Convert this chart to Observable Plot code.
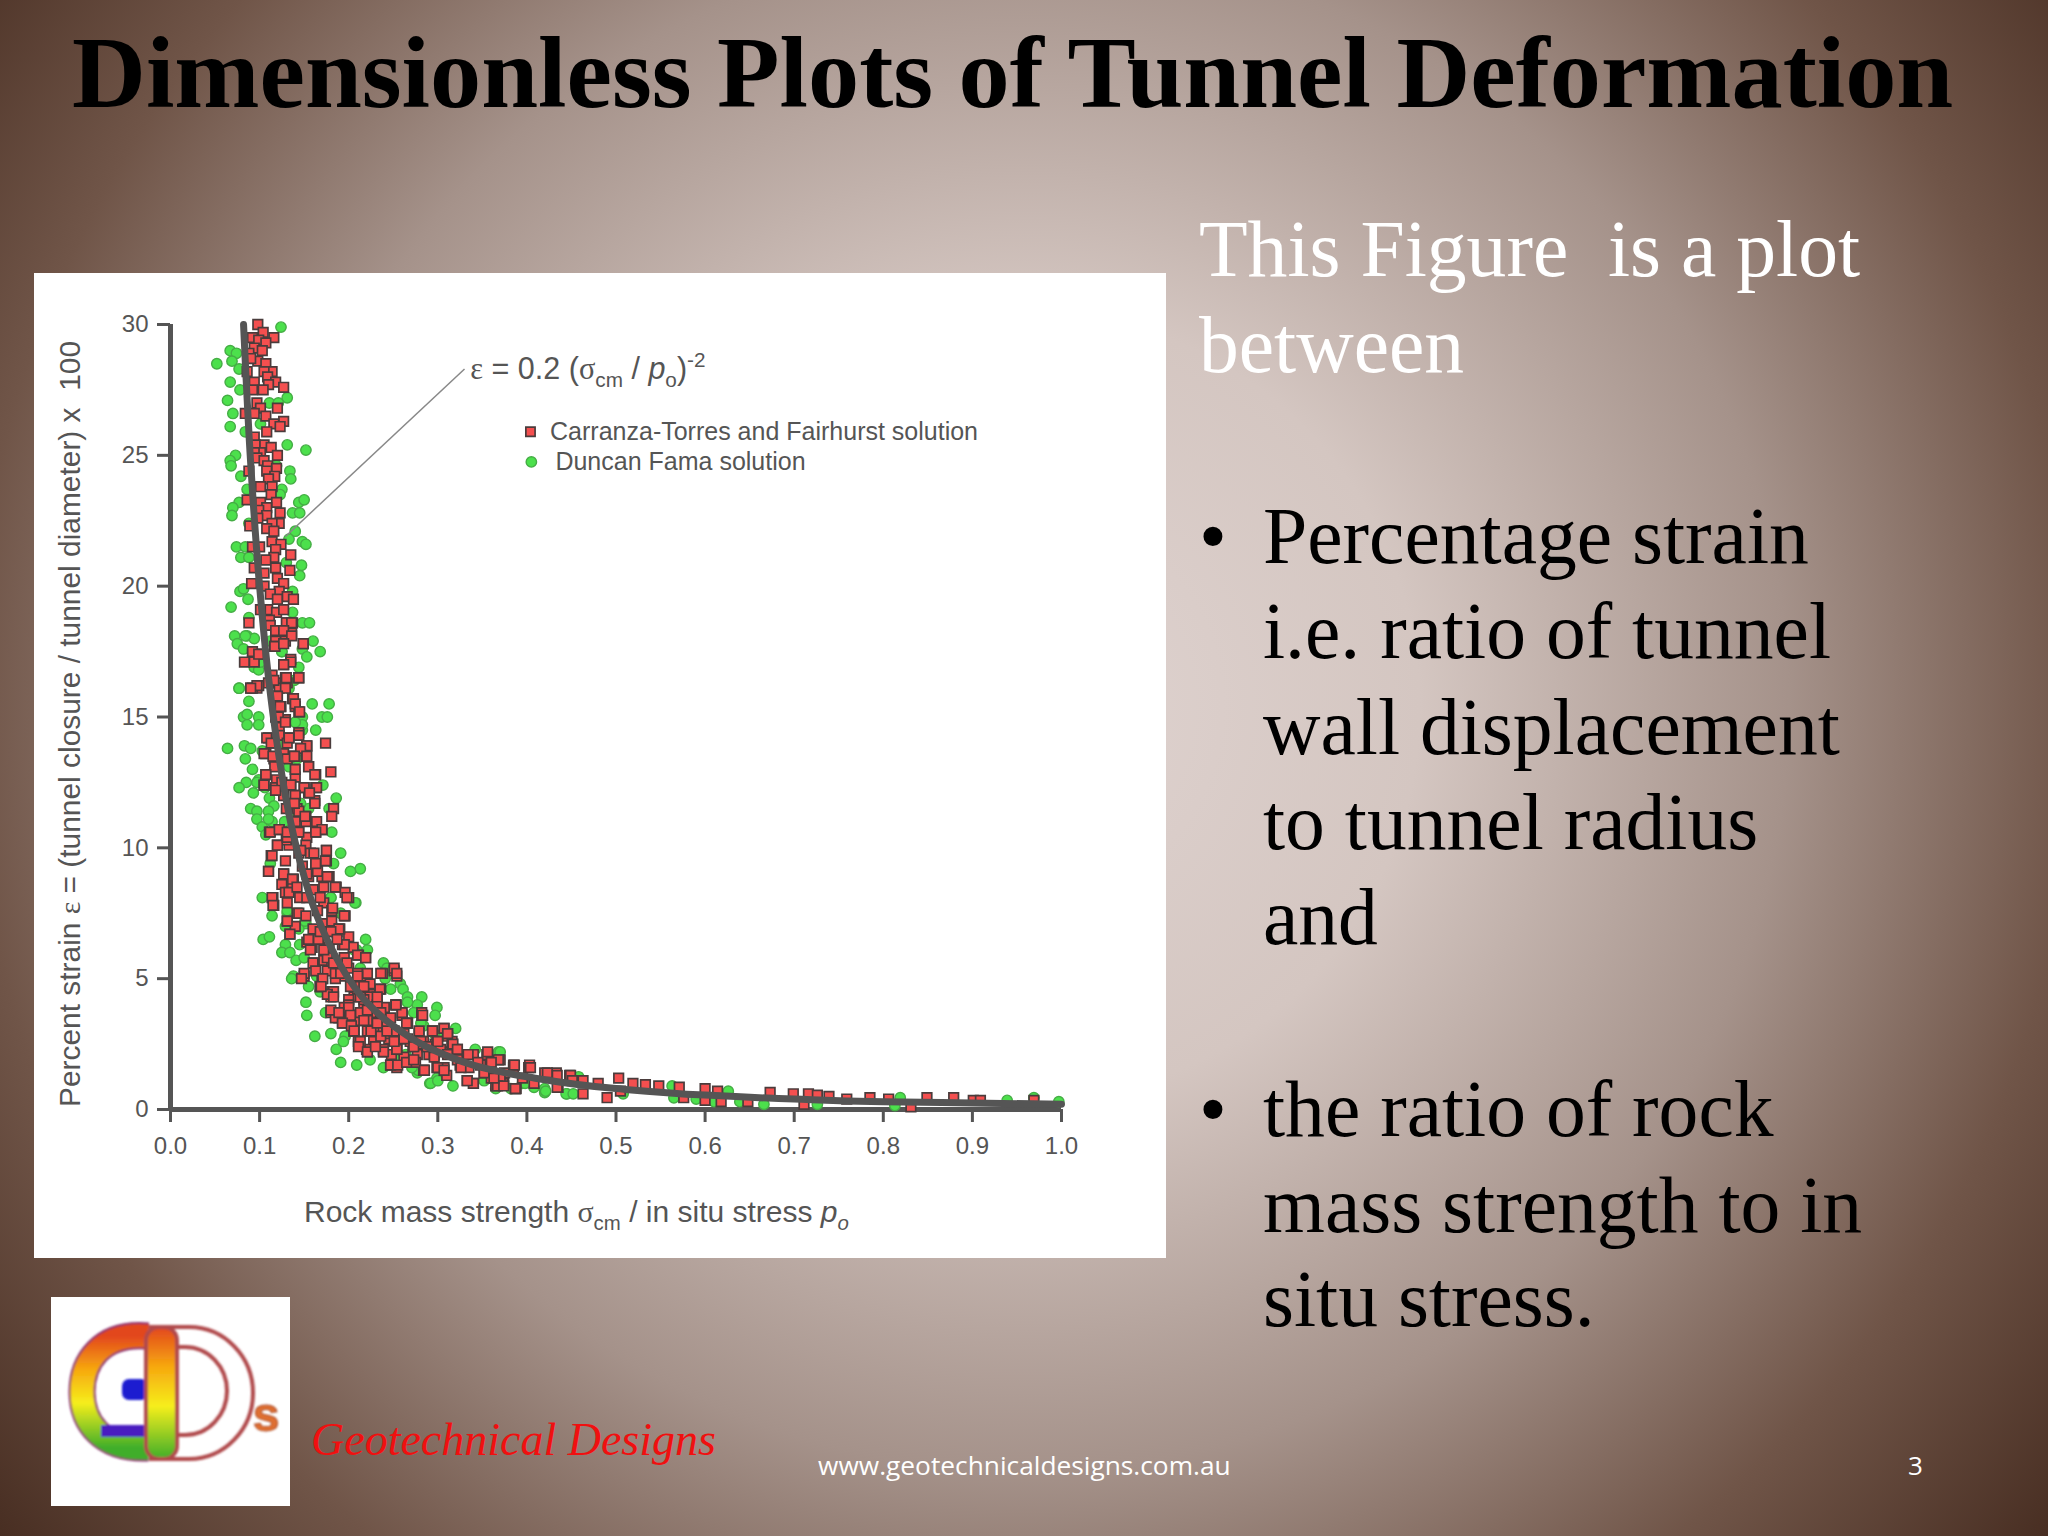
<!DOCTYPE html>
<html>
<head>
<meta charset="utf-8">
<script src="https://cdn.jsdelivr.net/npm/d3@7"></script>
<script src="https://cdn.jsdelivr.net/npm/@observablehq/plot@0.6"></script>
<style>
  html, body { margin: 0; padding: 0; }
  #slide {
    position: relative; width: 2048px; height: 1536px; overflow: hidden;
    background: radial-gradient(circle farthest-corner at 50% 46%, #e0d4d1 0%, #d4c6c1 30%, #a5928a 58%, #705548 80%, #482e22 100%);
    font-family: "Liberation Serif", serif;
  }
  #slide > div { position: absolute; white-space: pre; line-height: 1; }
  #slide > #panel, #slide > #logo { white-space: normal; }
  #panel svg, #logo svg { display: block; }
  #panel { left: 34px; top: 273px; width: 1132px; height: 985px; background: #fff; }
  #logo { left: 51px; top: 1297px; width: 239px; height: 209px; background: #fff; }
  .body { color: #000; font-size: 79.6px; }
  .white { color: #fff; }
</style>
</head>
<body>
<div id="slide">
  <div id="title" style="left:72px;top:22px;font-size:102.3px;font-weight:bold;color:#000">Dimensionless Plots of Tunnel Deformation</div>
  <div id="panel"></div>
  <div id="logo">
    <svg width="239" height="209">
      <defs>
        <linearGradient id="rainbow" x1="0" y1="0" x2="0" y2="1">
          <stop offset="0" stop-color="#e2461d"/><stop offset="0.3" stop-color="#f7a80f"/>
          <stop offset="0.6" stop-color="#f6ee1c"/><stop offset="1" stop-color="#3fae2a"/>
        </linearGradient>
        <filter id="soft"><feGaussianBlur stdDeviation="0.9"/></filter>
      </defs>
      <g filter="url(#soft)">
        <path d="M97 39 C50 35 31 65 31 95 C31 125 50 153 97 151" fill="none" stroke="#8a2f6a" stroke-width="27"/>
        <path d="M97 39 C50 35 31 65 31 95 C31 125 50 153 97 151" fill="none" stroke="url(#rainbow)" stroke-width="23"/>
        <rect x="50" y="128" width="46" height="12" fill="#4a1fc0"/>
        <rect x="71" y="82" width="26" height="21" rx="7" fill="#1a1ad0"/>
        <path d="M100 30 h38 a64 66 0 0 1 0 132 h-38 z" fill="none" stroke="#b0494c" stroke-width="4"/>
        <path d="M126 50 h8 a42 44 0 0 1 0 88 h-8 z" fill="none" stroke="#b0494c" stroke-width="4"/>
        <rect x="95" y="30" width="31" height="132" rx="13" fill="url(#rainbow)" stroke="#b0494c" stroke-width="4"/>
        <text x="215" y="134" text-anchor="middle" font-family="Liberation Sans" font-weight="bold" font-size="48" fill="#e07030" stroke="#a84020" stroke-width="1">s</text>
      </g>
    </svg>
  </div>
  <div class="white body" style="left:1199px;top:210px">This Figure  is a plot</div>
  <div class="white body" style="left:1199px;top:306px">between</div>
  <div class="body" style="left:1199px;top:497px">•</div>
  <div class="body" style="left:1263px;top:497px">Percentage strain</div>
  <div class="body" style="left:1263px;top:592px">i.e. ratio of tunnel</div>
  <div class="body" style="left:1263px;top:688px">wall displacement</div>
  <div class="body" style="left:1263px;top:783px">to tunnel radius</div>
  <div class="body" style="left:1263px;top:878px">and</div>
  <div class="body" style="left:1199px;top:1070px">•</div>
  <div class="body" style="left:1263px;top:1070px">the ratio of rock</div>
  <div class="body" style="left:1263px;top:1166px">mass strength to in</div>
  <div class="body" style="left:1263px;top:1260px">situ stress.</div>
  <div style="left:311px;top:1417px;font-size:46px;font-style:italic;color:#f01010">Geotechnical Designs</div>
  <div style="left:818px;top:1452px;font-size:26.3px;font-family:'Open Sans';color:#fff">www.geotechnicaldesigns.com.au</div>
  <div style="left:1908px;top:1452px;font-size:26px;font-family:'Open Sans';color:#fff">3</div>
</div>
<script>
const xTicks = [0, 0.1, 0.2, 0.3, 0.4, 0.5, 0.6, 0.7, 0.8, 0.9, 1];
const yTicks = [0, 5, 10, 15, 20, 25, 30];

// eps = 0.2 (s/p)^-2
const curveX = [0.082, 0.09, 0.1, 0.11, 0.12, 0.13, 0.14, 0.15, 0.16, 0.18, 0.2, 0.22, 0.25, 0.3, 0.35, 0.4, 0.5, 0.6, 0.7, 0.8, 0.9, 1];
const curveY = [30, 24.7, 20, 16.5, 13.9, 11.8, 10.2, 8.9, 7.8, 6.2, 5, 4.1, 3.2, 2.2, 1.6, 1.25, 0.8, 0.55, 0.4, 0.3, 0.25, 0.2];

const redPoints = [
  [.098,30],[.104,29.7],[.092,29.5],[.099,29.4],[.116,29.5],[.107,29.3],[.094,29.1],[.088,28.9],[.103,29],[.098,28.6],
  [.107,28.5],[.09,28.7],[.114,28.2],[.105,28.2],[.094,27.8],[.109,28],[.118,27.8],[.11,27.7],[.127,27.6],[.092,27.5],
  [.104,27.5],[.086,28.2],[.097,27],[.12,26.8],[.101,26.8],[.084,26.6],[.094,26.6],[.107,26.5],[.127,26.3],[.116,26.2],
  [.123,26.1],[.108,25.9],[.094,25.7],[.105,25.4],[.095,25.4],[.113,25.3],[.101,25.1],[.094,25.1],[.12,25],[.097,24.9],
  [.105,24.8],[.109,24.6],[.119,24.5],[.088,24.4],[.108,24.4],[.117,24.2],[.11,24.1],[.101,23.8],[.114,23.8],[.113,23.5],
  [.086,23.3],[.101,23.2],[.119,23.2],[.108,23],[.099,22.9],[.123,22.8],[.108,22.7],[.098,22.6],[.122,22.4],[.114,22.4],
  [.089,22.3],[.108,22.2],[.116,22.1],[.114,21.7],[.124,21.6],[.092,21.5],[.1,21.5],[.118,21.4],[.135,21.2],[.116,21.1],
  [.107,21],[.094,20.7],[.118,20.7],[.134,20.6],[.105,20.5],[.12,20.3],[.127,20.1],[.091,20.1],[.105,20],[.122,19.8],
  [.112,19.7],[.131,19.6],[.138,19.5],[.12,19.5],[.109,19.1],[.101,19.1],[.119,19],[.127,19.1],[.088,18.6],[.111,18.7],
  [.131,18.6],[.137,18.6],[.118,18.3],[.127,18.2],[.136,18.2],[.118,17.9],[.129,17.9],[.149,17.8],[.117,17.7],[.092,17.4],
  [.099,17.4],[.135,17.2],[.083,17.1],[.094,17.1],[.127,17],[.114,16.6],[.144,16.5],[.129,16.5],[.131,16.3],[.097,16.1],
  [.118,16.3],[.09,16.1],
  [.092,16.1],[.099,16.2],[.11,16.3],[.122,16.1],[.12,15.8],[.137,15.7],[.14,15.4],[.124,15.4],[.144,15.2],[.118,15],
  [.129,14.9],[.122,14.6],[.144,14.4],[.11,14.2],[.133,14.2],[.122,14.3],[.174,14],[.114,14],[.131,14],[.153,13.9],
  [.146,13.8],[.107,13.6],[.127,13.6],[.138,13.5],[.152,13.5],[.116,13.4],[.131,13.4],[.18,12.9],[.118,13.1],[.155,13.1],
  [.107,12.8],[.119,12.6],[.14,12.7],[.163,12.8],[.118,12.3],[.105,12.4],[.15,12.3],[.163,12.3],[.135,12.4],[.155,12.1],
  [.14,12],[.127,12],[.162,11.8],[.183,11.5],[.181,11.2],[.142,11.5],[.152,11.2],[.152,11],[.163,10.9],[.17,10.7],
  [.111,10.6],[.122,10.7],[.131,10.6],[.144,10.6],[.163,10.6],[.153,10.4],[.12,10.1],[.133,10.1],[.152,10.1],[.175,9.9],
  [.113,9.7],[.144,9.8],[.157,9.8],[.129,9.5],[.175,9.5],[.163,9.4],[.11,9.1],[.127,9],[.138,8.8],[.17,8.9],
  [.178,8.9],[.155,8.9],[.125,8.6],[.137,8.6],[.172,8.5],[.186,8.5],[.196,8.3],[.129,8.3],[.153,8.1],[.2,8.1],
  [.115,8.1],[.116,7.8],[.131,7.9],[.172,7.9],[.181,7.6],[.142,7.5],[.196,7.4],[.131,7.2],[.172,7.1],[.181,7.2],
  [.134,6.7],[.187,6.8],[.2,6.6],[.153,6.4],[.17,6.5],[.193,6.3],[.159,6.2],[.178,6.2],[.211,5.9],[.219,5.8],
  [.172,5.7],[.195,5.8],[.161,5.6],[.181,5.5],[.251,5.3],[.238,5.2],[.254,5.1],[.15,5.1],[.17,5],[.219,5.1],
  [.195,5.1],[.168,4.7],[.236,4.6],[.181,4.5],[.206,4.3],[.224,4.4],[.253,4],[.232,4.2],[.18,3.7],[.202,3.6],
  [.217,4],[.189,3.5],[.282,3.6],[.26,3.6],[.266,3.3],[.241,3.3],[.307,3.1],[.294,3],[.279,2.9],[.232,3],
  [.206,3],[.221,3],[.316,2.5],[.211,2.6],[.266,2.7],[.284,2.6],[.311,2.8],[.297,2.5],[.239,2.2],[.211,2.5],
  [.254,2.3],[.221,2.2],[.355,2.1],[.277,2.1],[.318,2.3],[.34,2.1],[.37,1.9],[.247,1.7],[.284,1.5],[.307,1.6],
  [.254,1.6],[.333,1.1],[.34,1],[.365,.9],[.387,.8],[.374,1],[.385,1.6],[.402,1.6],[.348,1.7],[.299,1.6],[.325,1.7],
  [.21,4.6],[.2,4.2],[.195,3.9],[.212,3.4],[.225,3.7],[.24,3.9],[.228,2.6],[.245,2.7],[.26,2.9],[.272,2.4],
  [.29,2.1],[.305,2.2],[.322,1.9],[.335,1.6],[.352,1.4],[.36,1.2],[.375,1.4],[.395,1.2],[.31,1.3],[.275,1.8],
  [.262,2],[.248,2.1],[.185,5],[.2,5.4],[.21,5.2],[.165,7.6],[.16,8.4],[.145,8.1],[.148,9.3],[.165,9.1],
  [.14,7],[.16,6.9],[.19,6.9],[.176,6.8],[.205,6.2],[.13,10.3],[.14,11],[.13,11.5],[.14,13],[.125,12.5],
  [.385,1.7],[.403,1.7],[.42,1.4],[.433,1.4],[.448,1.3],[.463,1.1],[.48,1],[.503,1.2],[.519,1],[.533,.95],
  [.548,.9],[.571,.85],[.6,.8],[.614,.7],[.673,.65],[.699,.6],[.716,.6],[.726,.55],[.739,.5],[.759,.4],
  [.785,.45],[.806,.4],[.849,.45],[.879,.45],[.901,.35],[.909,.35],[.969,.35],[.373,1],[.388,.8],[.435,.85],
  [.463,.6],[.49,.45],[.505,.7],[.576,.45],[.6,.35],[.618,.3],[.648,.3],[.711,.2],[.831,.1],
  // second pass over the dense part of the band
  [.12,10.1],[.114,9.7],[.11,9.1],[.127,9],[.137,8.8],[.133,8.3],[.114,8.1],[.115,7.8],[.131,7.2],[.134,6.7],
  [.144,7.5],[.152,7.4],[.155,6.5],[.166,6.5],[.157,6.1],[.176,5.8],[.16,5.6],[.163,5.3],[.176,5.3],[.15,5.2],
  [.147,5],[.168,4.7],[.171,5],[.185,5.2],[.175,9.9],[.174,9.5],[.163,9.4],[.176,8.9],[.185,8.5],[.198,8.1],
  [.195,7.4],[.168,8.1],[.182,7.7],[.189,6.9],[.195,6.3],[.21,5.9],[.219,5.8],[.198,5.6],[.221,5.2],[.21,5.1],
  [.236,5.2],[.251,5.4],[.254,5.2],[.235,4.6],[.224,4.3],[.2,4],[.187,3.7],[.201,3.6],[.185,3.5],[.193,3.3],
  [.206,3],[.211,2.6],[.22,2.3],[.239,2.3],[.253,4],[.26,3.6],[.266,3.3],[.282,3.7],[.279,3],[.294,3],
  [.299,2.6],[.307,3.1],[.311,2.9],[.316,2.6],[.254,2.3],[.322,2.3],[.277,2.5],[.228,3.1],[.243,2.9],[.217,4.2],
  [.18,4.3],[.183,4.5],[.176,4.4],[.213,4.7],[.224,4.8],[.232,4],[.213,3.7],[.221,3.4],[.236,3.5],[.243,3.3],
  [.251,3],[.262,2.9],[.269,2.6],[.281,2.6],[.288,2.4],[.296,2.1],[.303,2.3],[.311,2.1],[.18,6.8],[.187,6.5],
  [.168,6.8],[.172,6.1],[.183,5.6],[.191,5.2],[.202,4.7],[.142,8.5],[.153,8.1],[.146,9.9],[.131,10.4],[.161,9.8],
  [.153,9],[.169,4.7],[.2,3.9],[.18,3.8],[.189,3.7],[.202,3.6],[.193,3.3],[.203,3.2],[.206,3],[.213,2.6],
  [.211,2.4],[.221,2.2],[.239,2.2],[.254,2.3],[.23,2.4],[.247,1.7],[.255,1.7],[.265,1.8],[.273,1.9],[.285,1.5],
  [.3,1.6],[.307,1.5],[.317,2.5],[.3,2.6],[.311,2.9],[.265,3.3],[.26,3.7],[.253,4],[.283,3.6],[.356,2.2],
  [.368,1.9],[.322,2.3],[.334,2.1],[.345,1.8],[.36,1.8],[.37,1.2],[.367,.9],[.374,.9],[.387,.8],[.34,1],
  [.333,1.1],[.386,1.7],[.404,1.6],[.423,1.4],[.434,1.3],[.449,1.3],[.451,1.1],[.408,1],[.434,.85],[.352,1.4],
  [.363,1.2],[.326,1.6],[.296,2],[.288,2.4],[.273,2.4],[.236,2.8],[.251,2.6],[.243,3],[.262,2.7],[.225,3],
  [.217,3.4],[.232,3.3],[.247,3.5],[.236,3.7],[.221,3.8],[.213,4.3],[.232,4.3],[.217,4.7],[.183,4.3],
  [.112,18.5],[.13,18.6],[.136,18.6],[.118,18.3],[.127,18.3],[.136,18.1],[.149,17.8],[.117,17.7],[.092,17.5],[.099,17.4],
  [.127,17.8],[.135,17.1],[.127,17],[.144,16.5],[.13,16.5],[.116,16.4],[.097,16.2],[.09,16.1],[.129,16.1],[.12,15.8],
  [.138,15.7],[.14,15.5],[.123,15.4],[.145,15.2],[.121,15],[.129,14.8],[.144,14.3],[.133,14.2],[.108,14.2],[.113,14],
  [.153,13.9],[.146,13.8],[.105,13.6],[.115,13.5],[.139,13.5],[.153,13.5],[.155,13.1],[.162,12.8],[.117,13.1],[.107,12.8],
  [.105,12.4],[.118,12.2],[.135,12.4],[.15,12.3],[.164,12.3],[.156,12.1],[.14,12],[.162,11.7],[.144,11.4],[.151,11.2],
  [.139,11.7],[.164,11],[.17,10.7],[.112,10.6],[.122,10.7],[.131,10.6],[.144,10.6],[.163,10.6]
];

const greenPoints = [
  [.124,29.9],[.067,29],[.074,28.9],[.052,28.5],[.069,28.6],[.077,28.3],[.067,27.8],[.078,27.5],[.131,27.2],[.064,27.1],
  [.111,27],[.121,27],[.07,26.6],[.067,26.1],[.084,25.9],[.101,26.2],[.131,25.4],[.152,25.2],[.073,25],[.067,24.8],
  [.068,24.6],[.119,24.6],[.134,24.4],[.135,24.1],[.079,24.2],[.086,23.7],[.125,23.7],[.123,23.5],[.077,23.2],[.144,23.2],
  [.15,23.3],[.07,23],[.069,22.7],[.137,22.8],[.145,22.8],[.088,22.4],[.14,22.1],[.133,21.8],[.148,21.7],[.152,21.6],
  [.074,21.5],[.084,21.5],[.079,21.1],[.088,21.1],[.147,20.8],[.13,20.9],[.145,20.4],[.078,19.8],[.082,19.9],[.137,19.8],
  [.087,19.5],[.068,19.2],[.137,19],[.088,18.8],[.148,18.6],[.156,18.6],[.072,18.1],[.086,18.1],[.075,17.8],[.16,17.9],
  [.148,17.6],[.168,17.5],[.153,17.3],[.125,17.5],[.094,16.9],[.144,16.9],[.077,16.1],[.133,16.1],
  [.077,16.1],[.088,15.6],[.159,15.5],[.178,15.5],[.082,15],[.086,15.1],[.099,15],[.17,15],[.176,15],[.148,15],
  [.086,14.7],[.099,14.7],[.163,14.5],[.148,14.5],[.064,13.8],[.083,13.9],[.09,13.8],[.084,13.4],[.103,13.7],[.092,13],
  [.085,12.5],[.077,12.3],[.099,12.6],[.171,12.4],[.093,12.1],[.186,11.9],[.111,11.9],[.116,11.6],[.178,11.5],[.09,11.5],
  [.097,11.4],[.11,11.4],[.155,11.5],[.097,11.1],[.114,11],[.128,11],[.103,10.8],[.107,10.5],[.181,10.6],[.191,9.8],
  [.183,9.4],[.213,9.2],[.202,9.1],[.112,9.4],[.103,8.1],[.18,8.1],[.208,7.9],[.114,7.4],[.131,7.5],[.131,7],
  [.152,7.1],[.144,6.9],[.104,6.5],[.111,6.6],[.219,6.5],[.129,6.3],[.125,6],[.134,6],[.145,6.3],[.141,5.7],
  [.15,5.8],[.209,6.1],[.239,5.6],[.243,5.4],[.138,5.1],[.136,5],[.155,4.7],[.241,5],[.258,4.8],[.261,4.6],
  [.247,4.6],[.152,4.1],[.153,3.6],[.266,4.3],[.282,4.3],[.277,4],[.266,4.1],[.299,3.9],[.297,3.6],[.273,3.7],
  [.174,3.7],[.32,3.1],[.162,2.8],[.18,2.9],[.196,2.8],[.194,2.6],[.186,2.3],[.191,1.8],[.209,1.7],[.224,1.9],
  [.239,1.6],[.342,2.3],[.368,2.2],[.277,1.4],[.291,1],[.299,1.2],[.317,.9],[.382,.8],[.365,.8],[.303,2.8],[.284,3.2],
  [.37,2.2],[.395,1],[.408,.85],[.42,.65],[.445,.6],[.458,1.25],[.508,.6],[.563,.9],[.565,.45],[.59,.4],
  [.61,.3],[.626,.7],[.639,.3],[.666,.2],[.726,.2],[.819,.45],[.939,.35],[.997,.3],[.969,.45],[.813,.15],[.42,.8],
  [.151,7.2],[.129,7],[.191,7.5],[.18,8.1],[.131,7.6],[.206,6.1],[.221,6.1],[.213,5.4],[.168,4.5],[.164,5.1],
  [.228,4.5],[.281,3.3],[.296,2.9],[.207,7.9],[.278,1.5],[.292,1],[.3,1.1],[.421,.7],[.444,.6],[.452,.6],
  [.398,1],[.352,1.1],[.254,1.9],[.264,2.1],[.271,1.6],[.112,17.9],[.125,17.5],[.142,13.4],[.133,13.1],[.139,16.4],
  [.148,14.7],[.14,14.8],[.123,14],[.135,11.4],[.146,11.7],[.11,11.1],[.094,18],[.084,18.1],[.082,17.6],[.099,16.8],
  [.101,17.1],[.106,12.3],[.097,12.5]
];

// legend rows
const legendLabels = ["Carranza-Torres and Fairhurst solution", "Duncan Fama solution"];
const leaderX = [0.33, 0.129];
const leaderY = [28.3, 21.9];

const grey = "#555";
const redFill = "#f44f4f", redEdge = "#4a3c3c";
const greenFill = "#4ce04c", greenEdge = "#45ad45";

const plot = Plot.plot({
  width: 1132,
  height: 985,
  marginLeft: 136,
  marginRight: 105,
  marginTop: 51,
  marginBottom: 149,
  x: {domain: [0, 1]},
  y: {domain: [0, 30]},
  style: {background: "transparent", fontFamily: "Liberation Sans", fontSize: "24px"},
  marks: [
    Plot.axisX({ticks: xTicks, tickFormat: d3.format(".1f"), tickSize: 13, tickPadding: 14, strokeWidth: 3, stroke: grey, label: null, fill: grey}),
    Plot.axisY({ticks: yTicks, tickSize: 13, tickPadding: 9, strokeWidth: 3, stroke: grey, label: null, fill: grey}),
    Plot.ruleY([0], {stroke: grey, strokeWidth: 5}),
    Plot.ruleX([0], {stroke: grey, strokeWidth: 5}),
    Plot.dot(greenPoints, {x: d => d[0], y: d => d[1], r: 5.2, fill: greenFill, stroke: greenEdge, strokeWidth: 1.4}),
    Plot.dot(redPoints, {x: d => d[0], y: d => d[1], r: 5.4, symbol: "square", fill: redFill, stroke: redEdge, strokeWidth: 1.7}),
    Plot.line(curveX.map((x, i) => [x, curveY[i]]), {x: d => d[0], y: d => d[1], curve: "monotone-y", stroke: "#555", strokeWidth: 7}),
    Plot.link([0], {x1: () => leaderX[0], y1: () => leaderY[0], x2: () => leaderX[1], y2: () => leaderY[1], stroke: "#888", strokeWidth: 1.5}),
    Plot.dot([0], {x: () => 0.404, y: () => 25.9, r: 5.2, symbol: "square", fill: redFill, stroke: redEdge, strokeWidth: 1.7}),
    Plot.dot([0], {x: () => 0.405, y: () => 24.75, r: 5.2, fill: greenFill, stroke: greenEdge, strokeWidth: 1.4}),
    Plot.text([legendLabels[0]], {x: () => 0.426, y: () => 25.9, textAnchor: "start", fill: grey, fontSize: 25}),
    Plot.text([legendLabels[1]], {x: () => 0.432, y: () => 24.75, textAnchor: "start", fill: grey, fontSize: 25})
  ]
});

// the labels have subscripts, which Plot.text can't do
const svg = d3.select(plot);
function rich(x, y, size, parts, rotate) {
  const t = svg.append("text").attr("fill", grey).attr("font-size", size)
    .attr("font-family", "Liberation Sans").attr("text-anchor", "start")
    .attr("transform", `translate(${x},${y})` + (rotate ? ` rotate(${rotate})` : ""));
  let dy = 0;
  for (const p of parts) {
    const s = t.append("tspan").text(p.t);
    if (p.i) s.attr("font-style", "italic");
    if (p.sup || p.sub) {
      s.attr("font-size", size * 0.68);
      const d = p.sup ? -0.38 * size : 0.28 * size;
      s.attr("dy", d - dy); dy = d;
    } else if (dy) { s.attr("dy", -dy); dy = 0; }
    if (p.serif) s.attr("font-family", "Liberation Serif");
  }
  return t;
}
rich(46, 834, 29.9, [{t: "Percent strain "}, {t: "ε", serif: true}, {t: " = (tunnel closure / tunnel diameter) x  100"}], -90);
rich(270, 949, 30, [{t: "Rock mass strength "}, {t: "σ", serif: true}, {t: "cm", sub: true}, {t: " / in situ stress "}, {t: "p", i: true}, {t: "o", sub: true, i: true}]);
rich(plot.scale("x").apply(0.337), plot.scale("y").apply(27.9), 30.5, [
  {t: "ε", serif: true}, {t: " = 0.2 ("}, {t: "σ", serif: true}, {t: "cm", sub: true}, {t: " / "}, {t: "p", i: true}, {t: "o", sub: true}, {t: ")"}, {t: "-2", sup: true}
]);

document.getElementById("panel").appendChild(plot);
</script>
</body>
</html>
